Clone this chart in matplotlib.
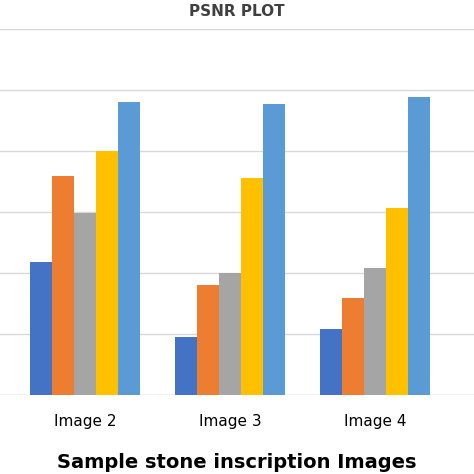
import matplotlib
matplotlib.use("Agg")
import matplotlib.pyplot as plt
import numpy as np

categories = ["Image 2", "Image 3", "Image 4"]
series_1 = [10.9, 4.75, 5.4]
series_2 = [17.95, 9.0, 7.95]
series_3 = [14.9, 10.0, 10.4]
series_4 = [20.0, 17.8, 15.3]
series_5 = [24.0, 23.85, 24.4]
colors = ["#4472C4", "#ED7D31", "#A5A5A5", "#FFC000", "#5B9BD5"]

fig = plt.figure(figsize=(4.74, 4.74), dpi=100)
ax = fig.add_axes([0.0, 0.1667, 1.0, 0.772])
x = np.arange(len(categories))
w = 0.152
for i, (vals, c) in enumerate(zip([series_1, series_2, series_3, series_4, series_5], colors)):
    ax.bar(x + (i - 2) * w, vals, width=w * 0.98, color=c, zorder=3)

ax.set_xlim(-0.586, 2.683)
ax.set_ylim(0, 30)
ax.set_yticks(np.arange(0, 31, 5))
ax.yaxis.grid(True, color="#D9D9D9", lw=1, zorder=0)
ax.tick_params(axis="y", left=False, labelleft=False)
ax.tick_params(axis="x", length=0, labelsize=11, pad=14)
ax.set_xticks(x)
ax.set_xticklabels(categories)
for s in ax.spines.values():
    s.set_visible(False)
ax.axhline(0, color="#D9D9D9", lw=1, zorder=2)

fig.text(0.5, 0.975, "PSNR PLOT", ha="center", va="center", fontsize=11, fontweight="bold", color="#404040")
fig.text(0.5, 0.025, "Sample stone inscription Images", ha="center", va="center", fontsize=14, fontweight="bold")
fig.savefig("out.png", dpi=100)
